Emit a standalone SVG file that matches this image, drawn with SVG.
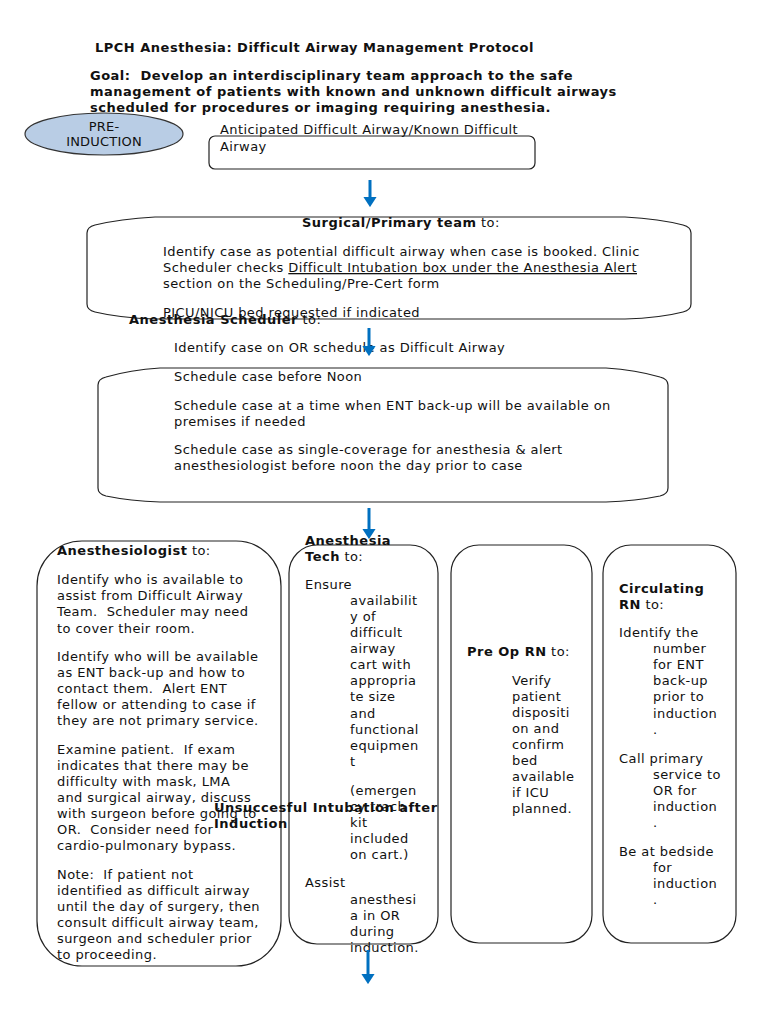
<svg xmlns="http://www.w3.org/2000/svg" width="768" height="1024" viewBox="0 0 768 1024">
<defs>
<marker id="ah" viewBox="0 0 10 13" refX="2" refY="6.5" markerWidth="3.4" markerHeight="4.4" orient="auto" markerUnits="strokeWidth">
<path d="M0,0 L10,6.5 L0,13 Z" fill="#0070c0"/>
</marker>
<style>
text{font-family:"DejaVu Sans","Noto Sans",sans-serif;font-size:13px;fill:#111;letter-spacing:0.42px;white-space:pre}
.b{font-weight:bold;letter-spacing:0.5px}
.box{fill:#fff;stroke:#222;stroke-width:1.2}
.conn line{stroke:#0070c0;stroke-width:3}
</style>
</defs>
<rect width="768" height="1024" fill="#fff"/>
<g id="header">
<text class="b" x="95" y="52">LPCH Anesthesia: Difficult Airway Management Protocol</text>
<text class="b" x="90" y="80">Goal:  Develop an interdisciplinary team approach to the safe</text>
<text class="b" x="90" y="96">management of patients with known and unknown difficult airways</text>
<text class="b" x="90" y="112">scheduled for procedures or imaging requiring anesthesia.</text>
</g>
<g id="pre-induction">
<ellipse cx="104" cy="134" rx="79" ry="21" fill="#b9cde5" stroke="#333" stroke-width="1.2"/>
<text x="104" y="131" text-anchor="middle" style="letter-spacing:0.2px">PRE-</text>
<text x="104" y="146" text-anchor="middle" style="letter-spacing:0.2px">INDUCTION</text>
</g>
<g id="anticipated">
<rect class="box" x="209" y="136" width="326" height="33" rx="6"/>
<text x="220" y="134">Anticipated Difficult Airway/Known Difficult</text>
<text x="220" y="151">Airway</text>
</g>
<g id="surgical">
<path class="box" d="M87,233 Q87,227 95,225 Q120,219 155,217 L625,217 Q660,219 683,225 Q691,227 691,233 L691,304 Q691,310 683,312 Q660,318 625,319 L155,319 Q120,318 95,312 Q87,310 87,304 Z"/>
<text x="302" y="227"><tspan class="b">Surgical/Primary team</tspan> to:</text>
<text x="163" y="256">Identify case as potential difficult airway when case is booked. Clinic</text>
<text x="163" y="272">Scheduler checks <tspan text-decoration="underline">Difficult Intubation box under the Anesthesia Alert</tspan></text>
<text x="163" y="288">section on the Scheduling/Pre-Cert form</text>
<text x="163" y="317">PICU/NICU bed requested if indicated</text>
</g>
<g id="scheduler">
<path class="box" d="M98,385 Q98,379 106,377 Q130,370 160,368 L606,368 Q636,370 660,377 Q668,379 668,385 L668,488 Q668,494 660,496 Q636,501 606,502 L160,502 Q130,501 106,496 Q98,494 98,488 Z"/>
<text x="129" y="324"><tspan class="b">Anesthesia Scheduler</tspan> to:</text>
<text x="174" y="352">Identify case on OR schedule as Difficult Airway</text>
<text x="174" y="381">Schedule case before Noon</text>
<text x="174" y="410">Schedule case at a time when ENT back-up will be available on</text>
<text x="174" y="426">premises if needed</text>
<text x="174" y="454">Schedule case as single-coverage for anesthesia &amp; alert</text>
<text x="174" y="470">anesthesiologist before noon the day prior to case</text>
</g>
<g id="anesthesiologist">
<rect class="box" x="37" y="541" width="244" height="425" rx="45"/>
<text x="57" y="555"><tspan class="b">Anesthesiologist</tspan> to:</text>
<text x="57" y="584">Identify who is available to</text>
<text x="57" y="600">assist from Difficult Airway</text>
<text x="57" y="616">Team.  Scheduler may need</text>
<text x="57" y="633">to cover their room.</text>
<text x="57" y="661">Identify who will be available</text>
<text x="57" y="677">as ENT back-up and how to</text>
<text x="57" y="693">contact them.  Alert ENT</text>
<text x="57" y="709">fellow or attending to case if</text>
<text x="57" y="725">they are not primary service.</text>
<text x="57" y="754">Examine patient.  If exam</text>
<text x="57" y="770">indicates that there may be</text>
<text x="57" y="786">difficulty with mask, LMA</text>
<text x="57" y="802">and surgical airway, discuss</text>
<text x="57" y="818">with surgeon before going to</text>
<text x="57" y="834">OR.  Consider need for</text>
<text x="57" y="850">cardio-pulmonary bypass.</text>
<text x="57" y="879">Note:  If patient not</text>
<text x="57" y="895">identified as difficult airway</text>
<text x="57" y="911">until the day of surgery, then</text>
<text x="57" y="927">consult difficult airway team,</text>
<text x="57" y="943">surgeon and scheduler prior</text>
<text x="57" y="959">to proceeding.</text>
</g>
<g id="tech">
<rect class="box" x="289" y="545" width="149" height="399" rx="28"/>
<text class="b" x="305" y="545">Anesthesia</text>
<text x="305" y="561"><tspan class="b">Tech</tspan> to:</text>
<text x="305" y="589">Ensure</text>
<text x="350" y="605">availabilit</text>
<text x="350" y="621">y of</text>
<text x="350" y="637">difficult</text>
<text x="350" y="653">airway</text>
<text x="350" y="669">cart with</text>
<text x="350" y="685">appropria</text>
<text x="350" y="701">te size</text>
<text x="350" y="718">and</text>
<text x="350" y="734">functional</text>
<text x="350" y="750">equipmen</text>
<text x="350" y="766">t</text>
<text x="350" y="795">(emergen</text>
<text x="350" y="811">cy trach</text>
<text x="350" y="827">kit</text>
<text x="350" y="843">included</text>
<text x="350" y="859">on cart.)</text>
<text x="305" y="887">Assist</text>
<text x="350" y="904">anesthesi</text>
<text x="350" y="920">a in OR</text>
<text x="350" y="936">during</text>
<text x="350" y="952">induction.</text>
</g>
<g id="preop">
<rect class="box" x="451" y="545" width="141" height="398" rx="28"/>
<text x="467" y="656"><tspan class="b">Pre Op RN</tspan> to:</text>
<text x="512" y="685">Verify</text>
<text x="512" y="701">patient</text>
<text x="512" y="717">dispositi</text>
<text x="512" y="733">on and</text>
<text x="512" y="749">confirm</text>
<text x="512" y="765">bed</text>
<text x="512" y="781">available</text>
<text x="512" y="797">if ICU</text>
<text x="512" y="813">planned.</text>
</g>
<g id="circulating">
<rect class="box" x="603" y="545" width="133" height="398" rx="28"/>
<text class="b" x="619" y="593">Circulating</text>
<text x="619" y="609"><tspan class="b">RN</tspan> to:</text>
<text x="619" y="637">Identify the</text>
<text x="653" y="653">number</text>
<text x="653" y="669">for ENT</text>
<text x="653" y="685">back-up</text>
<text x="653" y="701">prior to</text>
<text x="653" y="718">induction</text>
<text x="653" y="734">.</text>
<text x="619" y="763">Call primary</text>
<text x="653" y="779">service to</text>
<text x="653" y="795">OR for</text>
<text x="653" y="811">induction</text>
<text x="653" y="827">.</text>
<text x="619" y="856">Be at bedside</text>
<text x="653" y="872">for</text>
<text x="653" y="888">induction</text>
<text x="653" y="904">.</text>
</g>
<g id="unsuccessful">
<text class="b" x="214" y="812">Unsuccesful Intubation after</text>
<text class="b" x="214" y="828">Induction</text>
</g>
<g class="conn" id="connectors">
<line x1="370" y1="180" x2="370" y2="199" marker-end="url(#ah)"/>
<line x1="369" y1="328" x2="369" y2="348" marker-end="url(#ah)"/>
<line x1="369" y1="508" x2="369" y2="531" marker-end="url(#ah)"/>
<line x1="368" y1="950" x2="368" y2="976" marker-end="url(#ah)"/>
</g>
</svg>
